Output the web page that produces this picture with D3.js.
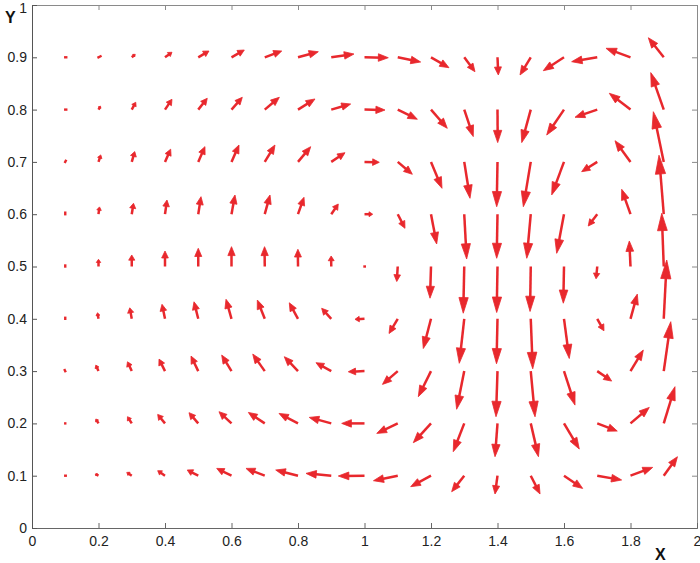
<!DOCTYPE html>
<html>
<head>
<meta charset="utf-8">
<script src="https://cdn.jsdelivr.net/npm/d3@7"></script>
<style>
  body { margin: 0; background: #fff; }
  svg { display: block; font-family: 'Liberation Sans', Arial, sans-serif; }
  .tick text { font-size: 14px; fill: #222; }
</style>
</head>
<body>
<svg id="chart" width="700" height="563"></svg>
<script>
'use strict';

// grid of the quiver plot
var xs = [0.1, 0.2, 0.3, 0.4, 0.5, 0.6, 0.7, 0.8, 0.9, 1.0, 1.1, 1.2, 1.3, 1.4, 1.5, 1.6, 1.7, 1.8, 1.9];
var ys = [0.9, 0.8, 0.7, 0.6, 0.5, 0.4, 0.3, 0.2, 0.1];

// arrow components (hundredths of a data unit), one array per row of ys
var uRows = [
  [0.3, 0.6, 1.05, 2.1, 3.22, 3.85, 5.11, 6.11, 6.83, 7.16, 6.89, 5.41, 3.23, 0.24, -3.23, -6.23, -7.7, -7.37, -4.63],
  [0.3, 0.6, 1.2, 2.1, 2.71, 3.25, 4.39, 5.11, 5.84, 6.17, 5.9, 4.9, 2.71, 0.06, -2.71, -5.2, -6.69, -6.38, -3.91],
  [0.15, 0.69, 0.9, 1.71, 2.02, 2.26, 3.08, 3.82, 4.14, 4.45, 4.39, 3.31, 1.73, -0.24, -2.23, -3.7, -4.69, -4.66, -3.13],
  [0, 0.3, 0.53, 0.6, 0.83, 1.05, 1.58, 1.8, 2.11, 2.47, 2.18, 1.71, 0.72, -0.24, -1.2, -2.2, -2.71, -2.65, -1.43],
  [0, 0, 0, 0, 0, 0, -0.06, -0.03, -0.03, 0.09, -0.3, -0.3, -0.3, -0.24, -0.21, -0.21, -0.36, -0.36, -0.6],
  [0, -0.3, -0.6, -0.9, -1.28, -1.65, -2.23, -2.62, -2.89, -2.86, -2.62, -2.32, -1.5, -0.3, 0.6, 1.59, 2.03, 2.05, 0.9],
  [-0.15, -0.81, -1.29, -1.8, -2.18, -2.95, -3.61, -4.12, -4.59, -4.87, -4.6, -3.82, -2.29, -0.45, 1.29, 3.31, 4.33, 3.85, 2.11],
  [0, -0.81, -1.29, -2.2, -2.78, -3.76, -4.93, -5.71, -6.62, -6.86, -6.32, -5.32, -3.31, -0.75, 2.32, 4.6, 6.02, 5.65, 3.38],
  [0.15, -0.99, -1.5, -2.2, -3.31, -4.45, -5.64, -6.71, -7.59, -7.88, -7.31, -6.11, -3.79, -0.75, 2.8, 5.62, 7.34, 6.68, 4.12]
];
var vRows = [
  [0, 0.19, 0.57, 0.96, 1.2, 1.39, 1.2, 1.07, 0.63, -0.08, -0.9, -1.99, -2.75, -3.38, -3.38, -2.56, -0.84, 1.72, 3.74],
  [0, 0.67, 1.4, 1.97, 2.16, 2.35, 2.35, 2.03, 1.07, -0.08, -1.85, -3.58, -5.16, -6.31, -6.31, -4.86, -1.47, 3.12, 7.07],
  [0.19, 1.34, 1.97, 2.43, 2.92, 3.23, 3.23, 2.91, 1.76, -0.08, -2.37, -5.05, -6.96, -8.57, -8.57, -6.31, -1.87, 4.05, 9.6],
  [0.29, 1.4, 2.08, 2.71, 3.35, 3.67, 3.67, 3.23, 1.95, 0, -2.7, -5.7, -8.57, -8.43, -8.43, -7.48, -2.26, 4.76, 11.28],
  [0.19, 1.38, 2.2, 2.96, 3.48, 3.79, 3.79, 3.29, 2.01, 0, -2.87, -6.06, -8.93, -8.8, -8.6, -7.02, -2.35, 4.88, 10.17],
  [0.19, 1.15, 2.1, 2.77, 3.25, 3.73, 3.59, 3.06, 2.01, -0.1, -2.81, -5.68, -8.51, -8.6, -9.56, -7.59, -2.29, 4.72, 11.24],
  [0.19, 1.15, 1.78, 2.29, 2.87, 3.06, 3.25, 2.75, 1.61, -0.13, -2.54, -4.89, -7.3, -8.72, -8.74, -6.5, -1.91, 4.02, 9.45],
  [0, 0.84, 1.28, 1.72, 2.05, 2.24, 2.1, 1.91, 1.15, 0, -1.91, -3.69, -5.41, -6.37, -6.37, -4.9, -1.47, 3.06, 7.02],
  [0, 0.33, 0.63, 0.96, 1.09, 1.4, 1.4, 1.09, 0.44, -0.06, -0.96, -2.1, -3.06, -3.5, -3.5, -2.43, -0.82, 1.59, 3.63]
];

var xTicks = [0, 0.2, 0.4, 0.6, 0.8, 1, 1.2, 1.4, 1.6, 1.8, 2];
var yTicks = [0, 0.1, 0.2, 0.3, 0.4, 0.5, 0.6, 0.7, 0.8, 0.9, 1];

var margin = { top: 5, right: 3, bottom: 35, left: 32 };
var width = 700, height = 563;
var arrowColor = '#e8282d';

var svg = d3.select('#chart');

var x = d3.scaleLinear().domain([0, 2]).range([margin.left, width - margin.right]);
var y = d3.scaleLinear().domain([0, 1]).range([height - margin.bottom, margin.top]);

// box: top and right first (lighter), then labelled axes
svg.append('g')
  .attr('transform', 'translate(0,' + margin.top + ')')
  .call(d3.axisTop(x).tickValues(xTicks).tickSize(-5).tickFormat(''))
  .call(function(g){ g.selectAll('path,line').attr('stroke', '#8a8a8a'); });

svg.append('g')
  .attr('transform', 'translate(' + (width - margin.right) + ',0)')
  .call(d3.axisRight(y).tickValues(yTicks).tickSize(-5).tickFormat(''))
  .call(function(g){ g.selectAll('path,line').attr('stroke', '#8a8a8a'); });

svg.append('g')
  .attr('transform', 'translate(0,' + (height - margin.bottom) + ')')
  .call(d3.axisBottom(x).tickValues(xTicks).tickSize(-5).tickPadding(8).tickFormat(d3.format('~g')))
  .call(function(g){
    g.selectAll('path,line').attr('stroke', '#666');
    g.selectAll('text').attr('font-family', null);
  });

svg.append('g')
  .attr('transform', 'translate(' + margin.left + ',0)')
  .call(d3.axisLeft(y).tickValues(yTicks).tickSize(-5).tickPadding(5).tickFormat(d3.format('~g')))
  .call(function(g){
    g.selectAll('path,line').attr('stroke', '#555');
    g.selectAll('text').attr('font-family', null);
    // top label sits a little low so it is not clipped by the edge
    g.selectAll('.tick').filter(function(d){ return d === 1; }).select('text').attr('dy', '0.55em');
  });

// axis letters
svg.append('text').attr('x', 5).attr('y', 23)
  .attr('font-size', 16).attr('font-weight', 'bold').attr('fill', '#111').text('Y');
svg.append('text').attr('x', 655).attr('y', 560)
  .attr('font-size', 16).attr('font-weight', 'bold').attr('fill', '#111').text('X');

// flatten rows into arrows
var arrows = [];
ys.forEach(function(yv, r){
  xs.forEach(function(xv, c){
    arrows.push({ x: xv, y: yv, u: uRows[r][c] / 100, v: vRows[r][c] / 100 });
  });
});

var g = svg.append('g').attr('class', 'quiver');

arrows.forEach(function(a){
  var x0 = x(a.x), y0 = y(a.y);
  var x1 = x(a.x + a.u), y1 = y(a.y + a.v);
  var dx = x1 - x0, dy = y1 - y0;
  var len = Math.sqrt(dx * dx + dy * dy);

  if (len < 2.5) {
    // near-zero vectors show up only as a small dot
    g.append('line')
      .attr('x1', x0).attr('y1', y0).attr('x2', x0 + dx).attr('y2', y0 + dy)
      .attr('stroke', arrowColor).attr('stroke-width', 2.4).attr('stroke-linecap', 'square');
    return;
  }

  var ux = dx / len, uy = dy / len;
  var h = Math.min(len * 0.25 + 4, len * 0.45);
  var hw = Math.min(h * 0.15 + 2.3, h * 0.5 + 0.6);
  var bx = x1 - ux * h, by = y1 - uy * h;

  g.append('line')
    .attr('x1', x0).attr('y1', y0)
    .attr('x2', x1 - ux * h * 0.5).attr('y2', y1 - uy * h * 0.5)
    .attr('stroke', arrowColor).attr('stroke-width', 2.5);

  g.append('path')
    .attr('d', 'M' + x1 + ',' + y1 +
      'L' + (bx - uy * hw) + ',' + (by + ux * hw) +
      'L' + (bx + uy * hw) + ',' + (by - ux * hw) + 'Z')
    .attr('fill', arrowColor)
    .attr('stroke', arrowColor).attr('stroke-width', 0.8).attr('stroke-linejoin', 'round');
});
</script>
</body>
</html>
